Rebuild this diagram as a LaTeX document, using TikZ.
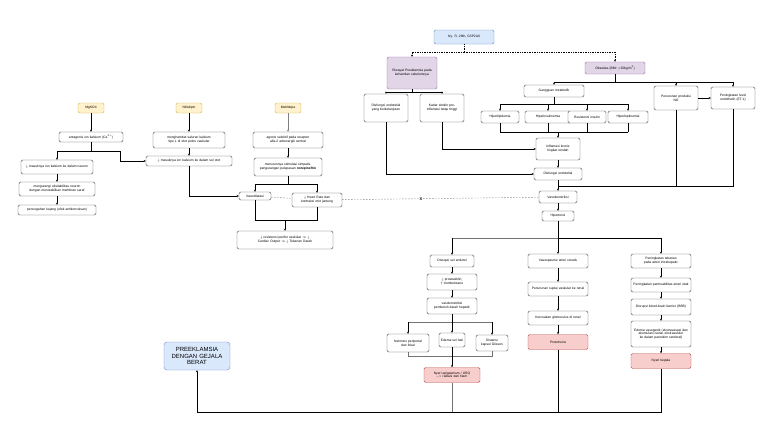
\documentclass[tikz,border=0pt]{standalone}
\usepackage{fontspec}
\setmainfont{Liberation Sans}
\usetikzlibrary{arrows.meta}
\definecolor{yfill}{HTML}{FFF2CC}\definecolor{ydraw}{HTML}{D6B656}
\definecolor{pfill}{HTML}{E1D5E7}\definecolor{pdraw}{HTML}{9673A6}
\definecolor{bfill}{HTML}{DAE8FC}\definecolor{bdraw}{HTML}{6C8EBF}
\definecolor{rfill}{HTML}{F8CECC}\definecolor{rdraw}{HTML}{B85450}
\begin{document}
\begin{tikzpicture}[x=2pt,y=-2pt,
  box/.style={draw=black!70,rounded corners=3pt,fill=white,align=center,
    font=\fontsize{6.6}{7.6}\selectfont,inner sep=1pt,line width=0.8pt},
  yel/.style={box,draw=ydraw,fill=yfill},
  pur/.style={box,draw=pdraw,fill=pfill},
  blu/.style={box,draw=bdraw,fill=bfill},
  pnk/.style={box,draw=rdraw,fill=rfill},
  ar/.style={-{Stealth[length=4.4pt,width=4pt]},line width=1.2pt},
  ln/.style={line width=1.2pt},
  thn/.style={draw=black!55,line width=0.8pt},
  dsh/.style={dashed,draw=black!50,line width=0.8pt},
  dot/.style={dotted,line width=1.4pt,-{Stealth[length=4.4pt,width=4pt]}}]
\useasboundingbox (0,0) rectangle (768,439);
\hyphenpenalty=10000
\newcommand\bx[6][box]{%
  \pgfmathsetmacro\bxw{2*#4}\pgfmathsetmacro\bxh{2*#5}\pgfmathsetmacro\bxt{2*#4-6}%
  \node[#1,minimum width=\bxw pt,minimum height=\bxh pt,text width=\bxt pt] (#2) at #3 {#6};}

% top
\bx[blu]{ny}{(464,37)}{60}{14}{Ny. R, 28th, G3P2A0}
\bx[pur]{riw}{(412,73)}{50}{32}{Riwayat Preeklamsia pada kehamilan sebelumnya}
\bx[pur]{obe}{(615,68)}{60}{12}{Obesitas (BMI $>$30kg/m$^2$)}
\bx{dis1}{(386,108)}{44}{28}{Disfungsi endotelial yang berkelanjutan}
\bx{sit}{(442,108)}{44}{28}{Kadar sitokin pro-inflamasi tetap tinggi}
\bx{gang}{(554,91)}{60}{12}{Gangguan metabolik}
\bx{no}{(676,98)}{44}{24}{Penurunan produksi\\NO}
\bx{et}{(733,98)}{44}{22}{Peningkatan level endothelin (ET-1)}
\bx{h1}{(500,117)}{38}{12}{Hiperlipidemia}
\bx{h2}{(548,117)}{46}{12}{Hiperinsulinemia}
\bx{h3}{(587,117)}{38}{12}{Resistensi insulin}
\bx{h4}{(628,117)}{40}{12}{Hiperleptinemia}
\bx{inf}{(558,149)}{44}{22}{Inflamasi kronis tingkat rendah}
\bx{dis2}{(558,174)}{48}{12}{Disfungsi endotelial}
\bx{vk}{(558,197)}{38}{12}{Vasokonstriksi}
\bx{hip}{(558,216)}{32}{10}{Hipertensi}

\draw[dot] (ny) -- (464,52) -| (riw);
\draw[dot] (464,52) -| (obe);
\draw[ln] (riw) -- (412,92);
\draw[ar] (386,92) -- (dis1);
\draw[ar] (442,92) -- (sit);
\draw[ln] (386,92) -- (442,92);
\draw[ln] (obe) -- (615,82);
\draw[ln] (554,82) -- (733,82);
\draw[ar] (554,82) -- (gang);
\draw[ar] (676,82) -- (no);
\draw[ar] (733,82) -- (et);
\draw[ar] (no) -- (et);
\draw[ln] (gang) -- (554,104);
\draw[ln] (500,104) -- (628,104);
\foreach \h/\x in {h1/500,h2/548,h3/587,h4/628}{
  \draw[ar] (\x,104) -- (\h);
  \draw[ln] (\h) -- (\x,132);}
\draw[ln] (500,132) -- (628,132);
\draw[ar] (558,132) -- (inf);
\draw[ar] (sit) |- (inf);
\draw[ar] (inf) -- (dis2);
\draw[ar] (dis1) |- (dis2);
\draw[ln] (dis2) -- (558,186);
\draw[ln] (no) -- (676,186);
\draw[ln] (et) -- (733,186) -- (558,186);
\draw[ar] (558,186) -- (vk);
\draw[ar] (vk) -- (hip);

% branches
\bx{d1}{(452,261)}{44}{12}{Disrupsi sel endotel}
\bx{d2}{(452,282)}{50}{16}{$\downarrow$ prostasiklin,\\$\uparrow$ tromboksane}
\bx{d3}{(452,306)}{50}{16}{vasokonstriksi pembuluh darah hepatik}
\bx{d4}{(408,343)}{42}{18}{Nekrosis periportal dan fokal}
\bx{d5}{(452,340)}{26}{14}{Edema sel hati}
\bx{d6}{(492,343)}{32}{16}{Distensi kapsul Glisson}
\bx[pnk]{d7}{(452,375)}{56}{15}{Nyeri epigastrium / URQ --$>$ radiasi dari hiam}
\bx{m1}{(558,261)}{60}{14}{Vasospasme arteri renalis}
\bx{m2}{(558,289)}{60}{14}{Penurunan suplai vaskular ke renal}
\bx{m3}{(558,318)}{60}{14}{Kerusakan glomerulus di renal}
\bx[pnk]{m4}{(558,342)}{60}{15}{Proteinuria}
\bx{r1}{(661,261)}{60}{14}{Peningkatan tekanan pada arteri intrahepatic}
\bx{r2}{(661,285)}{60}{14}{Peningkatan permeabilitas arteri otak}
\bx{r3}{(661,307)}{60}{16}{Disrupsi blood-brain barrier (BBB)}
\bx{r4}{(661,334)}{60}{26}{Edema vasogenik (ekstravasasi dan akumulasi cairan ekstraseluler ke dalam parenkim serebral)}
\bx[pnk]{r5}{(661,361)}{60}{15}{Nyeri kepala}
\node[blu,minimum width=132pt,minimum height=56pt,text width=124pt,
  font=\fontsize{12}{13}\selectfont,rounded corners=6pt] (pre) at (197,356) {PREEKLAMSIA\\DENGAN GEJALA\\BERAT};

\draw[ln] (hip) -- (558,238);
\draw[thn] (452,238) -- (558,238);
\draw[ln] (558,238) -- (661,238);
\draw[ar] (452,238) -- (d1);
\draw[ar] (558,238) -- (m1);
\draw[ar] (661,238) -- (r1);
\draw[ar] (d1) -- (d2);
\draw[ar] (d2) -- (d3);
\draw[ln] (d3) -- (452,322);
\draw[thn] (408,322) -- (492,322);
\draw[ar] (408,322) -- (d4);
\draw[ar] (452,322) -- (d5);
\draw[ar] (492,322) -- (d6);
\draw[thn] (d4) -- (408,356) -- (492,356) -- (d6);
\draw[ar] (d5) -- (d7);
\draw[ar] (m1) -- (m2);
\draw[ar] (m2) -- (m3);
\draw[ar] (m3) -- (m4);
\draw[ar] (r1) -- (r2);
\draw[ar] (r2) -- (r3);
\draw[ar] (r3) -- (r4);
\draw[ar] (r4) -- (r5);
\draw[thn] (d7) -- (452,412);
\draw[ln] (m4) -- (558,412);
\draw[ln] (r5) -- (661,412) -- (197,412);
\draw[ar] (197,412) -- (pre);

% left drugs
\bx[yel]{mg}{(91,108)}{26}{10}{MgSO4}
\bx[yel]{nif}{(189,108)}{26}{10}{Nifedipin}
\bx[yel]{met}{(288,108)}{26}{10}{Metildopa}
\bx{a1}{(91,137)}{64}{10}{antagonis ion kalsium (Ca$^{2+}$)}
\bx{a2}{(57,167)}{72}{14}{$\downarrow$ masuknya ion kalsium ke dalam neuron}
\bx{a3}{(57,189)}{76}{14}{mengurangi eksitabilitas neuron dengan menstabilkan membran saraf}
\bx{a4}{(57,210)}{78}{10}{pencegahan kejang (efek antikonvulsan)}
\bx{b1}{(189,140)}{72}{16}{menghambat saluran kalsium tipe L di otot polos vaskular}
\bx{b2}{(189,161)}{86}{10}{$\downarrow$ masuknya ion kalsium ke dalam sel otot}
\bx{c1}{(288,140)}{70}{16}{agonis selektif pada reseptor alfa-2 adrenergik sentral}
\bx{c2}{(288,167)}{68}{18}{menurunnya stimulasi simpatis, pengurangan pelepasan \textbf{norepinefrin}}
\bx{vd}{(255,196)}{32}{8}{Vasodilatasi}
\bx{hr}{(317,200)}{50}{14}{$\downarrow$ Heart Rate dan kontraksi otot jantung}
\bx{td}{(285,240)}{96}{18}{$\downarrow$ resistensi perifer vaskular $\Rightarrow$ $\downarrow$ Cardiac Output $\Rightarrow$ $\downarrow$ Tekanan Darah}

\draw[ar] (mg) -- (a1);
\draw[ln] (a1) -- (91,151) -- (57,151);
\draw[ar] (57,151) -- (a2);
\draw[ar] (91,151) -- (120,151) -- (120,161) -- (b2);
\draw[ar] (a2) -- (a3);
\draw[ar] (a3) -- (a4);
\draw[ar] (nif) -- (b1);
\draw[ar] (b1) -- (b2);
\draw[ar] (b2) |- (vd);
\draw[ar,draw=black!50] (met) -- (c1);
\draw[ar] (c1) -- (c2);
\draw[ln] (c2) -- (288,184) -- (255,184);
\draw[ar] (255,184) -- (vd);
\draw[ar] (288,184) -- (317,184) -- (hr);
\draw[ln] (vd) -- (255,220) -- (317,220) -- (hr);
\draw[ar] (285,220) -- (td);
\draw[dsh] (vd) -- (hr);
\draw[dsh] (hr) -- (vk) node[pos=0.4,fill=white,inner sep=1pt,font=\fontsize{8}{8}\selectfont\bfseries,text=black] (xx) {X};
\end{tikzpicture}
\end{document}
